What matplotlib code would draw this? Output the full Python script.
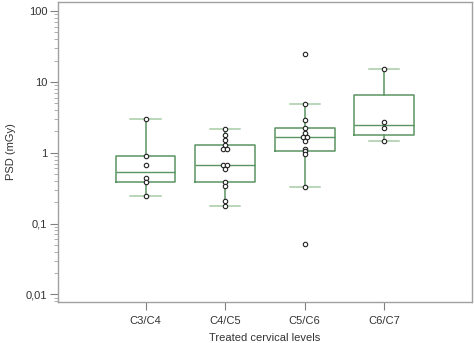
import numpy as np
import matplotlib.pyplot as plt

levels = ["C3/C4", "C4/C5", "C5/C6", "C6/C7"]
c3c4 = [3.03, 0.90, 0.667, 0.44, 0.39, 0.244]
c4c5 = [2.19, 1.76, 1.50, 1.30, 1.14, 1.14, 0.667, 0.667, 0.586, 0.388, 0.340, 0.207, 0.178]
c5c6 = [24.4, 4.93, 2.87, 2.26, 1.90, 1.67, 1.67, 1.45, 1.11, 1.04, 0.95, 0.33, 0.051]
c6c7 = [15.0, 2.75, 2.22, 1.44]
groups = [c3c4, c4c5, c5c6, c6c7]

ytick_vals = [0.01, 0.1, 1, 10, 100]
ytick_labels = ["0,01", "0,1", "1", "10", "100"]

plt.rcParams['font.family'] = ['Liberation Sans', 'DejaVu Sans']


def hinge_stats(vals, label):
    # Tukey hinges, computed on the log scale
    lv = np.sort(np.log10(vals))
    n = len(lv)
    half = (n + 1) // 2
    q1 = np.median(lv[:half])
    q3 = np.median(lv[n - half:])
    step = 1.5 * (q3 - q1)
    inside = lv[(lv >= q1 - step) & (lv <= q3 + step)]
    return dict(med=10 ** np.median(lv), q1=10 ** q1, q3=10 ** q3,
                whislo=10 ** inside.min(), whishi=10 ** inside.max(),
                fliers=[], label=label)


stats = [hinge_stats(g, lab) for g, lab in zip(groups, levels)]

fig = plt.figure(figsize=(4.74, 3.43), dpi=100)
ax = fig.add_axes([0.122, 0.12, 0.874, 0.874])

green = '#5a9460'
light = '#a6cca6'
ax.bxp(stats, positions=[1, 2, 3, 4], widths=0.75, showfliers=False,
       boxprops=dict(color=green, lw=1.1),
       whiskerprops=dict(color=green, lw=1.1),
       capprops=dict(color=light, lw=1.1),
       medianprops=dict(color=green, lw=1.0),
       capwidths=0.38)

# all observations as open circles, ties placed side by side
for i, g in enumerate(groups):
    vals = np.array(g)
    xs = np.full(len(vals), i + 1.0)
    for v in np.unique(vals):
        idx = np.where(vals == v)[0]
        if len(idx) > 1:
            xs[idx] += (np.arange(len(idx)) - (len(idx) - 1) / 2) * 0.05
    ax.plot(xs, vals, 'o', ms=3.2, mfc='white', mec='#222222', mew=0.8, zorder=5)

ax.set_yscale('log')
ax.set_ylim(10 ** -2.106, 10 ** 2.127)
ax.set_xlim(-0.103, 5.104)
ax.set_yticks(ytick_vals, labels=ytick_labels)
ax.set_xticks([1, 2, 3, 4], labels=levels)

for s in ax.spines.values():
    s.set_color('#a0a0a0')
    s.set_linewidth(1.0)
ax.tick_params(which='major', length=5.5, width=0.8, color='#808080',
               labelsize=8, labelcolor='#333333', pad=2)
ax.tick_params(axis='x', pad=5)
ax.tick_params(which='minor', length=3, width=0.6, color='#a0a0a0')

ax.set_ylabel("PSD (mGy)", fontsize=8, color='#333333')
ax.set_xlabel("Treated cervical levels", fontsize=8, color='#333333')
ax.yaxis.set_label_coords(-0.101, 0.5)
ax.xaxis.set_label_coords(0.5, -0.105)

fig.savefig("out.png", dpi=100)
